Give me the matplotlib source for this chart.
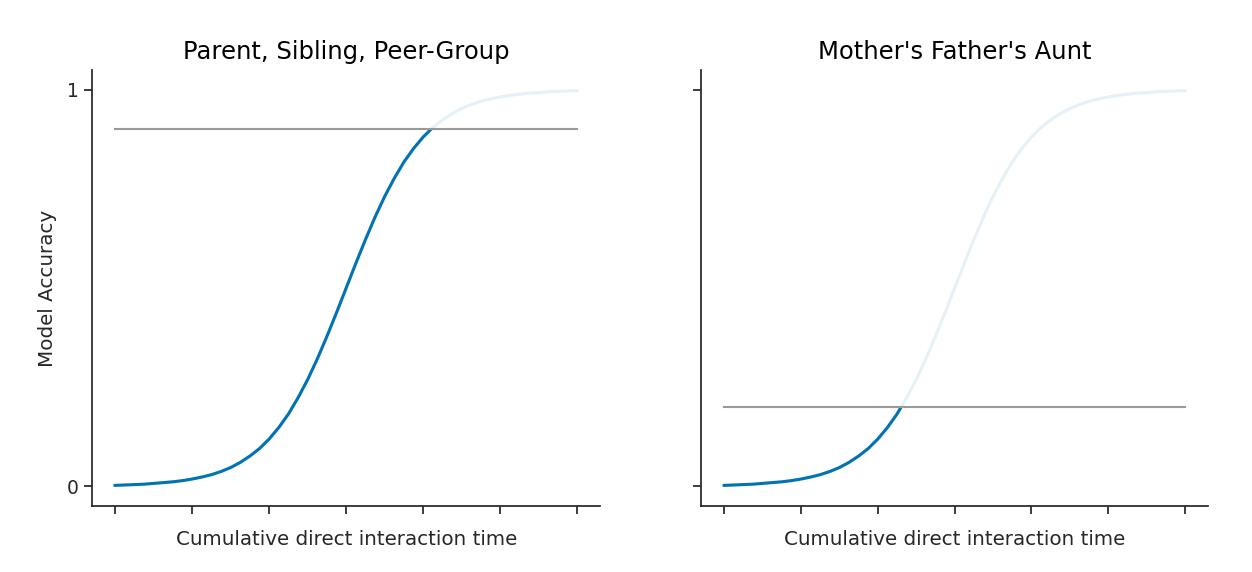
import matplotlib
matplotlib.use("Agg")
import matplotlib.pyplot as plt
from matplotlib.patches import Rectangle

# interaction time (tick units) and model accuracy
time = [0, 0.125, 0.25, 0.375, 0.5, 0.625, 0.75, 0.875, 1, 1.125, 1.25, 1.375,
        1.5, 1.625, 1.75, 1.875, 2, 2.125, 2.25, 2.375, 2.5, 2.625, 2.75, 2.875,
        3, 3.125, 3.25, 3.375, 3.5, 3.625, 3.75, 3.875, 4, 4.125, 4.25, 4.375,
        4.5, 4.625, 4.75, 4.875, 5, 5.125, 5.25, 5.375, 5.5, 5.625, 5.75, 5.875, 6]
accuracy = [0.002, 0.003, 0.004, 0.005, 0.007, 0.009, 0.011, 0.014, 0.018, 0.023,
            0.029, 0.037, 0.047, 0.060, 0.076, 0.095, 0.119, 0.148, 0.182, 0.223,
            0.269, 0.321, 0.378, 0.438, 0.500, 0.562, 0.622, 0.679, 0.731, 0.777,
            0.818, 0.852, 0.881, 0.905, 0.924, 0.940, 0.953, 0.963, 0.971, 0.977,
            0.982, 0.986, 0.989, 0.992, 0.993, 0.995, 0.996, 0.997, 0.998]

titles = ["Parent, Sibling, Peer-Group", "Mother's Father's Aunt"]
thresholds = [0.9, 0.2]

blue = '#0173b2'
gray = '#999999'
dark = '#262626'

fig = plt.figure(figsize=(12.52, 5.72), dpi=100)
ax1 = fig.add_axes([0.0735, 0.1154, 0.406, 0.7622])
ax2 = fig.add_axes([0.560, 0.1154, 0.405, 0.7622])

for ax, title, thr in zip([ax1, ax2], titles, thresholds):
    # faded full curve
    ax.plot(time, accuracy, color=blue, alpha=0.1, linewidth=2.2)
    # solid part below the threshold
    solid, = ax.plot(time, accuracy, color=blue, linewidth=2.2)
    clip = Rectangle((-1, -1), 10, thr + 1, transform=ax.transData)
    solid.set_clip_path(clip)
    ax.plot([time[0], time[-1]], [thr, thr], color=gray, linewidth=1.5)

    ax.set_xlim(-0.3, 6.3)
    ax.set_ylim(-0.05, 1.05)
    ax.set_xticks(range(7))
    ax.set_xticklabels([])
    ax.set_yticks([0, 1])
    ax.set_title(title, fontsize=17.5, color='black', pad=8)
    ax.set_xlabel('Cumulative direct interaction time', fontsize=14.3, labelpad=8, color=dark)
    for s in ['top', 'right']:
        ax.spines[s].set_visible(False)
    for s in ['left', 'bottom']:
        ax.spines[s].set_color(dark)
        ax.spines[s].set_linewidth(1.25)
    ax.tick_params(colors=dark, width=1.25, length=6, labelsize=13.5)

ax1.set_yticklabels(['0', '1'])
ax2.set_yticklabels([])
ax1.set_ylabel('Model Accuracy', fontsize=14.3, labelpad=7, color=dark)

fig.savefig('out.png', dpi=100)
